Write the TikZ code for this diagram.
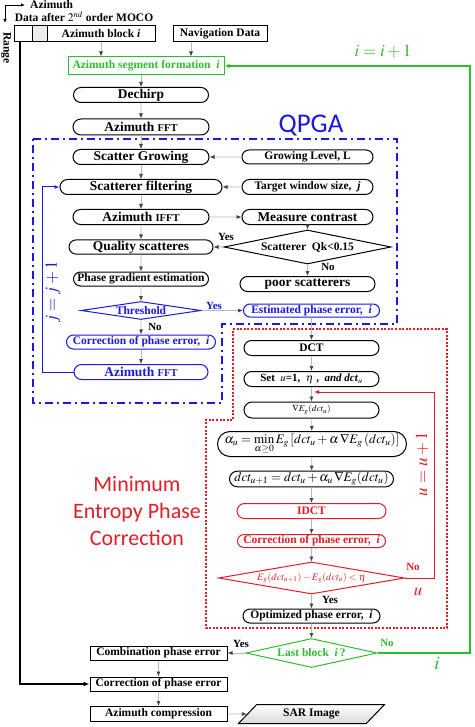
\documentclass[tikz,border=0pt]{standalone}
\usepackage{mathptmx}
\usepackage{fontspec}
\setmainfont{Liberation Serif}
\newfontfamily\calibrifont{Carlito}
\usetikzlibrary{arrows.meta,shapes.geometric,shapes.misc}
\definecolor{qpgablue}{RGB}{25,25,225}
\definecolor{mered}{RGB}{225,30,40}
\definecolor{loopgreen}{RGB}{45,190,45}

\tikzset{
	txt/.style={font=\bfseries\fontsize{11.5}{13}\selectfont},
	bigtxt/.style={font=\bfseries\fontsize{13.4}{15}\selectfont},
	wh/.style n args={2}{minimum width=#1pt, minimum height=#2pt},
	rbox/.style={rounded rectangle, draw, line width=1pt, inner sep=1pt, fill=white, txt},
	sbox/.style={rectangle, draw, line width=1pt, inner sep=1pt, fill=white, txt},
	dbox/.style={diamond, draw, line width=1pt, inner sep=0pt, fill=white, txt},
	flow/.style={draw=gray!55, line width=0.7pt, -{Latex[length=5pt,width=4pt,color=black!75]}},
	yesno/.style={font=\bfseries\fontsize{11}{12}\selectfont},
	bluebox/.style={draw=qpgablue, text=qpgablue},
	redbox/.style={draw=mered, text=mered},
	greenbox/.style={draw=loopgreen, text=loopgreen}
}

\begin{document}
\begin{tikzpicture}[x=1pt,y=1pt]

	\useasboundingbox (0,0) rectangle (474,-727);

	% regions
	\draw[qpgablue, line width=1.4pt, dash pattern=on 8pt off 4pt on 2pt off 4pt]
		(33,-139) -- (397,-139) -- (397,-324) -- (222,-324) -- (222,-403) -- (33,-403) -- cycle;
	\draw[mered, line width=1.4pt, dash pattern=on 2pt off 1.6pt]
		(233,-329) -- (447,-329) -- (447,-628) -- (206,-628) -- (206,-420) -- (233,-420) -- cycle;
	\node[font=\calibrifont\fontsize{27}{30}\selectfont, text=qpgablue] (qpga) at (311,-126) {QPGA};
	\node[font=\calibrifont\fontsize{22}{27}\selectfont, text=mered, align=center] (metitle) at (137,-511) {Minimum\\Entropy Phase\\Correction};

	% axes
	\coordinate (org) at (5,-5);
	\coordinate (rangeend) at (5,-23);
	\node[txt, anchor=west, inner sep=0pt] (azlbl) at (30,-5) {Azimuth};
	\draw[line width=0.8pt, -{Latex[length=4pt,width=3.5pt]}] (org) -- ([xshift=-5pt]azlbl.west);
	\draw[line width=0.8pt, -{Latex[length=4pt,width=3.5pt]}] (org) -- (rangeend);
	\node[txt, rotate=-90] (rangelbl) at (6,-48) {Range};
	\node[txt] (moco) at (84,-17) {Data after $2^{nd}$ order MOCO};

	% input
	\node[sbox, wh={18}{16}] (cella) at (23,-34) {};
	\node[sbox, wh={15}{16}, fill=gray!15] (cellb) at (39.5,-34) {};
	\node[sbox, wh={108}{16}] (block) at (101,-34) {Azimuth block \textit{i}};
	\node[sbox, wh={94}{16}] (nav) at (220,-34) {Navigation Data};
	\node[sbox, greenbox, wh={156}{18}] (segform) at (146,-66) {Azimuth segment formation~~\textit{i}};
	\node[rbox, bigtxt, wh={137}{15}] (dechirp) at (141,-95) {Dechirp};
	\node[rbox, bigtxt, wh={138}{16}] (azfft) at (141,-127) {Azimuth {\fontsize{10.5}{12}\selectfont FFT}};

	% QPGA
	\node[rbox, bigtxt, wh={138}{15}] (growing) at (141,-157) {Scatter Growing};
	\node[rbox, wh={133}{14}] (growlvl) at (307.5,-157) {Growing Level, L};
	\node[rbox, bigtxt, wh={164}{15}] (filter) at (141,-187) {Scatterer filtering};
	\node[rbox, wh={133}{15}] (target) at (307.5,-187) {Target window size,~~\textit{j}};
	\node[rbox, bigtxt, wh={138}{15}] (ifft) at (141,-217) {Azimuth {\fontsize{10.5}{12}\selectfont IFFT}};
	\node[rbox, bigtxt, wh={133}{15}] (measure) at (307.5,-217) {Measure contrast};
	\node[dbox, aspect=4.9, wh={167}{34}] (qk) at (307.5,-247) {Scatterer~~Qk<0.15};
	\node[rbox, bigtxt, wh={146}{14}] (quality) at (141,-247) {Quality scatteres};
	\node[rbox, bigtxt, wh={137}{15}] (poor) at (307.5,-284) {poor scatterers};
	\node[rbox, wh={137}{14}] (pge) at (141,-279) {Phase gradient estimation};
	\node[dbox, bluebox, aspect=6.7, wh={120}{18}] (thresh) at (141,-310.5) {Threshold};
	\node[rbox, bluebox, wh={138}{13}] (estim) at (311.5,-310.5) {Estimated phase error,~~\textit{i}};
	\node[rbox, bluebox, wh={151}{14}] (corrb) at (141,-342) {Correction of phase error,~~\textit{i}};
	\node[rbox, bluebox, bigtxt, wh={136}{15}] (azfft2) at (141,-372) {Azimuth {\fontsize{10.5}{12}\selectfont FFT}};

	% minimum entropy
	\node[rbox, wh={137}{15}] (dct) at (311.5,-348) {DCT};
	\node[rbox, font=\bfseries\fontsize{11}{12}\selectfont, wh={137}{15}] (setu) at (311.5,-379) {Set~~$u$=1,~~$\eta$~,~~\textit{and dct}$_u$};
	\node[rbox, font=\fontsize{9}{10}\selectfont, wh={137}{16}] (grad) at (311.5,-410) {$\nabla E_g(dct_u)$};
	\node[rbox, font=\fontsize{13}{14}\selectfont, wh={191}{25}] (alpha) at (312,-444) {$\alpha_u=\min\limits_{\alpha\ge0} E_g\left[dct_u+\alpha\,\nabla E_g\left(dct_u\right)\right]$};
	\node[rbox, font=\fontsize{13}{14}\selectfont, wh={166}{15}] (dctup) at (311.5,-479) {$dct_{u+1}=dct_u+\alpha_u\,\nabla E_g(dct_u)$};
	\node[rbox, redbox, wh={151}{15}] (idct) at (311.5,-511) {IDCT};
	\node[rbox, redbox, wh={150}{13}] (corrr) at (311.5,-541) {Correction of phase error,~~\textit{i}};
	\node[dbox, redbox, aspect=5.8, font=\fontsize{10}{11}\selectfont, wh={186}{32}] (dia2) at (311.5,-578) {$E_g(dct_{u+1})-E_g(dct_u)<\eta$};
	\node[rbox, wh={139}{14}] (opt) at (311.5,-616) {Optimized phase error,~~\textit{i}};

	% output
	\node[dbox, greenbox, aspect=4.5, wh={131}{29}] (last) at (311.5,-653) {Last block~~\textit{i}\,?};
	\node[sbox, wh={137}{14}] (comb) at (158.5,-653) {Combination phase error};
	\node[sbox, wh={137}{14}] (corr) at (158.5,-684) {Correction of phase error};
	\node[sbox, wh={137}{15}] (azcomp) at (158.5,-714) {Azimuth compression};
	\node[trapezium, trapezium left angle=58, trapezium right angle=122, trapezium stretches=true,
		draw, line width=1pt, top color=white, bottom color=gray!30, txt, wh={147}{19}] (sar) at (311.5,-714) {SAR Image};

	% connectors
	\draw[flow] (block.south) -- (block.south |- segform.north);
	\draw[flow] ([xshift=-29pt]nav.south) -- ([xshift=-29pt]nav.south |- segform.north);
	\draw[flow] (dechirp |- segform.south) -- (dechirp.north);
	\foreach \a/\b in {dechirp/azfft, azfft/growing, growing/filter, filter/ifft, ifft/quality,
		quality/pge, pge/thresh, thresh/corrb, corrb/azfft2, growlvl/growing, target/filter,
		ifft/measure, measure/qk, qk/quality, qk/poor, thresh/estim, estim/dct, dct/setu,
		setu/grad, grad/alpha, alpha/dctup, dctup/idct, idct/corrr, corrr/dia2, dia2/opt,
		opt/last, last/comb, comb/corr, corr/azcomp, azcomp/sar}
		\draw[flow] (\a) -- (\b);

	\node[yesno] (yes1) at (226,-237) {Yes};
	\node[yesno] (no1) at (328,-267) {No};
	\node[yesno, text=qpgablue] (yes2) at (214,-306) {Yes};
	\node[yesno] (no2) at (155,-327) {No};
	\node[yesno] (yes3) at (330,-600) {Yes};
	\node[yesno, text=mered] (no3) at (413,-567) {No};
	\node[yesno] (yes4) at (241,-644) {Yes};
	\node[yesno, text=loopgreen] (no4) at (387,-643) {No};

	% loops
	\draw[qpgablue, line width=1pt, -{Latex[length=5pt,width=4pt]}] (azfft2.west) -- ++(-31,0) |- (filter.west);
	\node[text=qpgablue, rotate=90, font=\fontsize{17}{18}\selectfont] (jinc) at (53,-292) {$j=j+1$};

	\coordinate (uin) at (314,-392);
	\draw[mered, line width=1pt, -{Latex[length=5pt,width=4pt]}] (dia2.east) -- ++(29,0) |- (uin);
	\node[text=mered, rotate=90, font=\fontsize{17}{18}\selectfont] (uinc) at (422,-464) {$u=u+1$};
	\node[text=mered, font=\fontsize{17}{18}\selectfont] (ulbl) at (418,-592) {$u$};

	\coordinate (gcorner) at (470,-66);
	\draw[loopgreen, line width=1.4pt, -{Latex[length=5pt,width=4pt]}] (last.east) -| (gcorner) -- (segform.east);
	\node[text=loopgreen, font=\fontsize{17}{18}\selectfont] (iinc) at (383,-52) {$i=i+1$};
	\node[text=loopgreen, font=\fontsize{19}{20}\selectfont] (ilbl) at (437,-663) {$i$};

	\draw[line width=1.3pt, -{Latex[length=6pt,width=5pt]}] ([xshift=-3pt]cella.south) |- (corr.west);

\end{tikzpicture}
\end{document}
